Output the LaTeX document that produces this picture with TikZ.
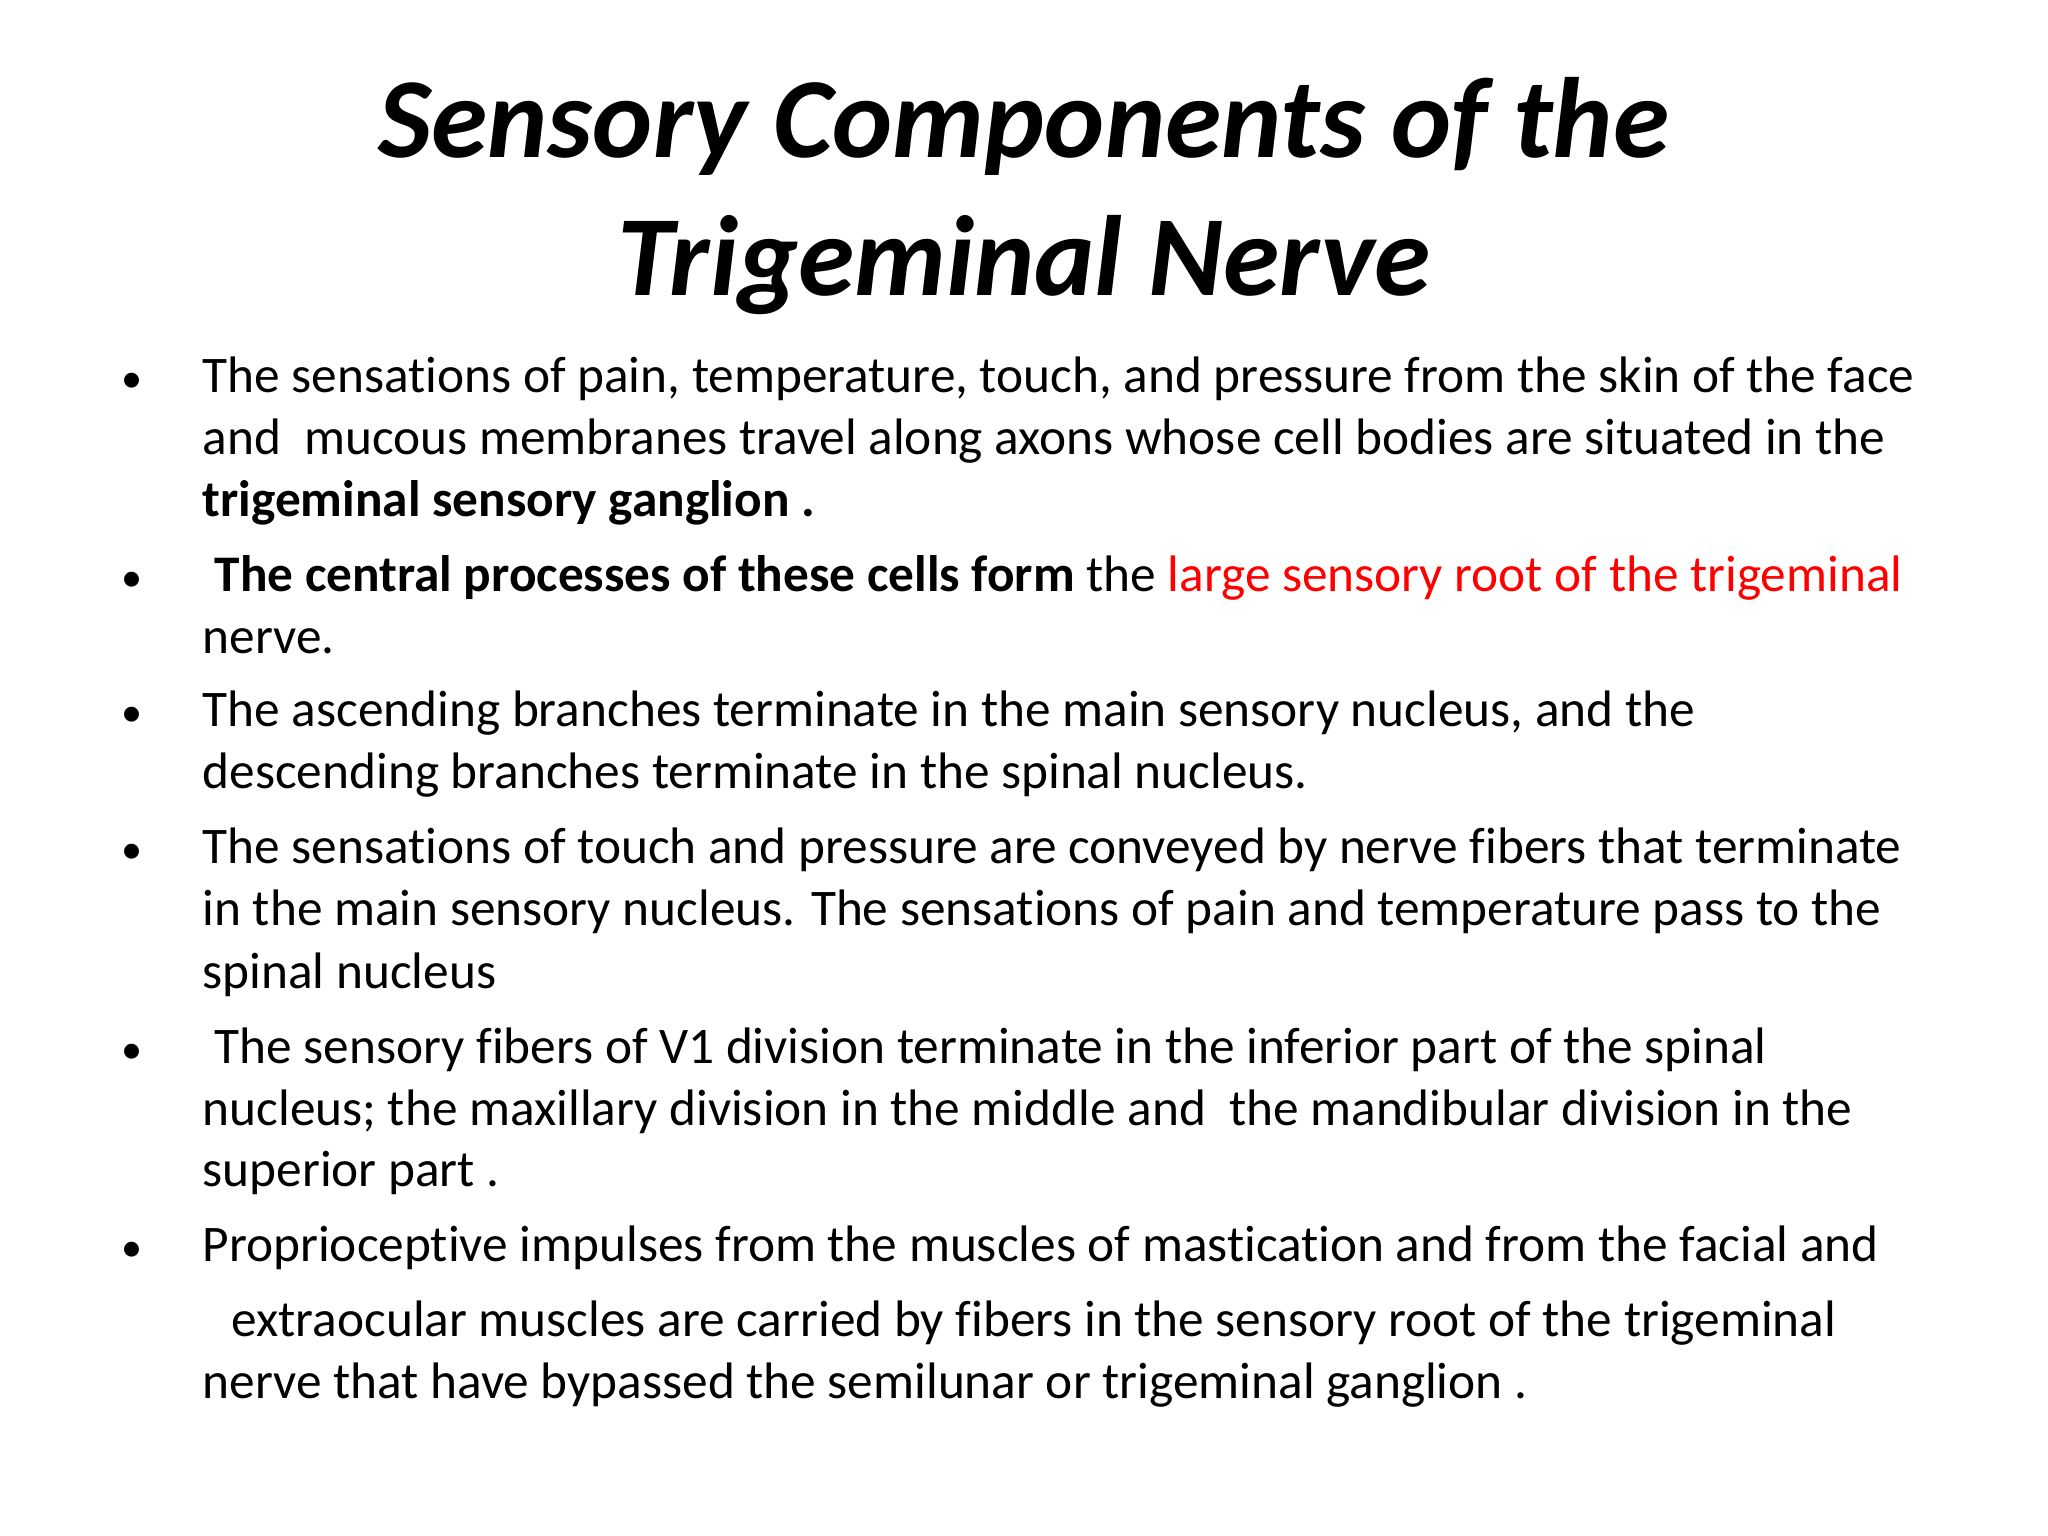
\documentclass[tikz,border=0pt]{standalone}
\usepackage{fontspec}
\setmainfont{Carlito}[Ligatures=NoCommon]
\usetikzlibrary{positioning}
\definecolor{rootred}{HTML}{ff0000}
\tikzset{
  bodyline/.style={anchor=base west, inner sep=0pt, font=\fontsize{14.6}{18}\selectfont},
  dot/.style={anchor=base, inner sep=0pt, font=\fontsize{12}{14}\selectfont},
  heading/.style={anchor=base, inner sep=0pt, font=\fontsize{32.5}{38}\selectfont\bfseries\itshape}
}
\begin{document}
\begin{tikzpicture}[x=1cm,y=-1cm]
    \useasboundingbox (0,0) rectangle (20.48,15.36);

    % title
    \node[heading] (title1) at (10.24,1.58) {Sensory Components of the};
    \node[heading] (title2) at (10.24,2.96) {Trigeminal Nerve};

    % bullets
    \foreach \y [count=\i] in {3.93,5.91,7.27,8.64,10.63,12.61}
        \node[dot] (dot\i) at (1.32,\y) {•};

    % text lines
    \node[bodyline] (l1) at (2.02,3.93) {The sensations of pain, temperature, touch, and pressure from the skin of the face};
    \node[bodyline] (l2) at (2.02,4.55) {and~ mucous membranes travel along axons whose cell bodies are situated in the};
    \node[bodyline] (l3) at (2.02,5.17) {\bfseries trigeminal sensory ganglion .};
    \node[bodyline] (l4) at (2.14,5.91) {\bfseries The central processes of these cells form \mdseries the \textcolor{rootred}{large sensory root of the trigeminal}};
    \node[bodyline] (l5) at (2.02,6.53) {nerve.};
    \node[bodyline] (l6) at (2.02,7.27) {The ascending branches terminate in the main sensory nucleus, and the};
    \node[bodyline] (l7) at (2.02,7.89) {descending branches terminate in the spinal nucleus.};
    \node[bodyline] (l8) at (2.02,8.64) {The sensations of touch and pressure are conveyed by nerve fibers that terminate};
    \node[bodyline] (l9) at (2.02,9.26) {in the main sensory nucleus. The sensations of pain and temperature pass to the};
    \node[bodyline] (l10) at (2.02,9.88) {spinal nucleus};
    \node[bodyline] (l11) at (2.14,10.63) {The sensory fibers of V1 division terminate in the inferior part of the spinal};
    \node[bodyline] (l12) at (2.02,11.25) {nucleus; the maxillary division in the middle and~ the mandibular division in the};
    \node[bodyline] (l13) at (2.02,11.87) {superior part .};
    \node[bodyline] (l14) at (2.02,12.61) {Proprioceptive impulses from the muscles of mastication and from the facial and};
    \node[bodyline] (l15) at (2.31,13.36) {extraocular muscles are carried by fibers in the sensory root of the trigeminal};
    \node[bodyline] (l16) at (2.02,13.98) {nerve that have bypassed the semilunar or trigeminal ganglion .};
\end{tikzpicture}
\end{document}
